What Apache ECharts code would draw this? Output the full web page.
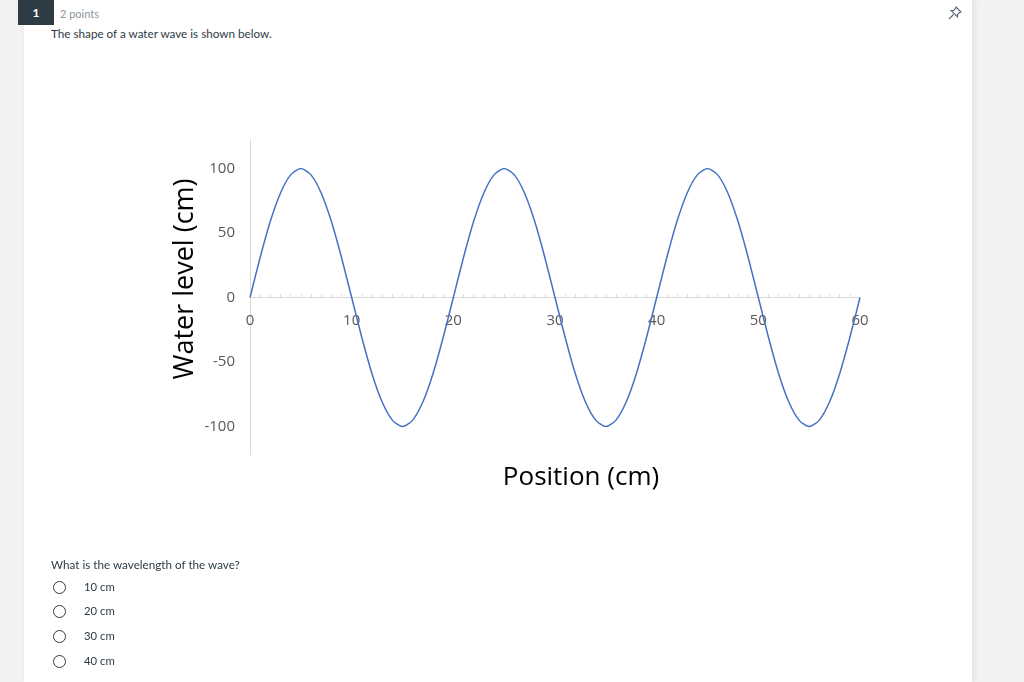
<!DOCTYPE html>
<html>
<head>
<meta charset="utf-8">
<script src="https://cdn.jsdelivr.net/npm/echarts@6/dist/echarts.min.js"></script>
<style>
  html, body { margin:0; padding:0; width:1024px; height:682px; overflow:hidden; background:#f2f2f2; font-family: Lato, "Open Sans", sans-serif; }
  #card { position:absolute; left:24px; top:0; width:948px; height:682px; background:#fff; box-shadow: 2px 0 6px rgba(0,0,0,0.08); }
  #num { position:absolute; left:18px; top:0; width:36px; height:25px; background:#2d3b45; color:#fff; font-size:12px; font-weight:bold; text-align:center; line-height:26px; }
  #pts { position:absolute; left:60px; top:7px; font-size:11px; color:#8b969e; }
  #q1 { position:absolute; left:51px; top:26px; font-size:11.7px; color:#2d3b45; }
  #q2 { position:absolute; left:51px; top:557px; font-size:11.7px; color:#2d3b45; }
  .opt { position:absolute; left:53px; height:16px; font-size:11.3px; color:#2d3b45; }
  .opt .rb { position:absolute; left:0; top:1px; width:11px; height:11px; border:1.6px solid #2d3b45; border-radius:50%; }
  .opt .lb { position:absolute; left:31px; top:0; white-space:nowrap; }
  #pin { position:absolute; left:947px; top:5px; }
  #chart { position:absolute; left:0; top:0; width:1024px; height:682px; }
</style>
</head>
<body>
<div id="card"></div>
<div id="num">1</div>
<div id="pts">2 points</div>
<div id="q1">The shape of a water wave is shown below.</div>
<svg id="pin" width="16" height="16" viewBox="0 0 16 16"><g fill="none" stroke="#5b6670" stroke-width="1.1"><path d="M9 2 L14 7 L12.5 7.5 L10.5 9.5 L10.5 12 L4 5.5 L6.5 5.5 L8.5 3.5 Z"/><path d="M6.5 9.5 L2 14"/></g></svg>
<div id="chart"></div>
<div id="q2">What is the wavelength of the wave?</div>
<div class="opt" style="top:580px"><div class="rb"></div><div class="lb">10 cm</div></div>
<div class="opt" style="top:604px"><div class="rb"></div><div class="lb">20 cm</div></div>
<div class="opt" style="top:629px"><div class="rb"></div><div class="lb">30 cm</div></div>
<div class="opt" style="top:654px"><div class="rb"></div><div class="lb">40 cm</div></div>
<script>
// Position (cm), one point per cm
const positions = [0,1,2,3,4,5,6,7,8,9,10,11,12,13,14,15,16,17,18,19,20,21,22,23,24,25,26,27,28,29,30,31,32,33,34,35,36,37,38,39,40,41,42,43,44,45,46,47,48,49,50,51,52,53,54,55,56,57,58,59,60];
// Water level (cm)
const waterLevel = [0,31,59,81,95,100,95,81,59,31,0,-31,-59,-81,-95,-100,-95,-81,-59,-31,0,31,59,81,95,100,95,81,59,31,0,-31,-59,-81,-95,-100,-95,-81,-59,-31,0,31,59,81,95,100,95,81,59,31,0,-31,-59,-81,-95,-100,-95,-81,-59,-31,0];
const yTickLabels = [-100,-50,0,50,100];
const xTitle = 'Position (cm)';
const yTitle = 'Water level (cm)';

const chart = echarts.init(document.getElementById('chart'), null, {renderer:'canvas'});
chart.setOption({
  animation:false,
  backgroundColor:'transparent',
  grid:{left:250, right:164, top:140, bottom:227},
  xAxis:{
    type:'value', min:0, max:60, interval:10,
    position:'bottom', offset:-157.5,
    axisLine:{onZero:false, lineStyle:{color:'#d9d9d9', width:1}},
    axisTick:{show:false, inside:true},
    minorTick:{show:true, splitNumber:10, length:3, lineStyle:{color:'#d9d9d9'}},
    axisLabel:{color:'#595959', fontSize:15, fontFamily:'Open Sans', margin:16},
    splitLine:{show:false}
  },
  yAxis:{
    type:'value', min:-122, max:122,
    axisLine:{show:true, lineStyle:{color:'#d9d9d9', width:1}},
    axisTick:{show:false},
    axisLabel:{color:'#595959', fontSize:15, fontFamily:'Open Sans', margin:15, customValues:yTickLabels},
    splitLine:{show:false}
  },
  graphic:[
    {type:'text', x:581, y:478, style:{text:xTitle, fontSize:26, fontFamily:'Open Sans', fill:'#000', align:'center', verticalAlign:'middle'}},
    {type:'text', rotation:Math.PI/2, x:185, y:279, style:{text:yTitle, fontSize:27, fontFamily:'Open Sans', fill:'#000', align:'center', verticalAlign:'middle'}}
  ],
  series:[{
    type:'line', data:positions.map((p,i)=>[p, waterLevel[i]]),
    showSymbol:false, smooth:0.25,
    lineStyle:{color:'#4472c4', width:1.5}
  }]
});
</script>
</body>
</html>
